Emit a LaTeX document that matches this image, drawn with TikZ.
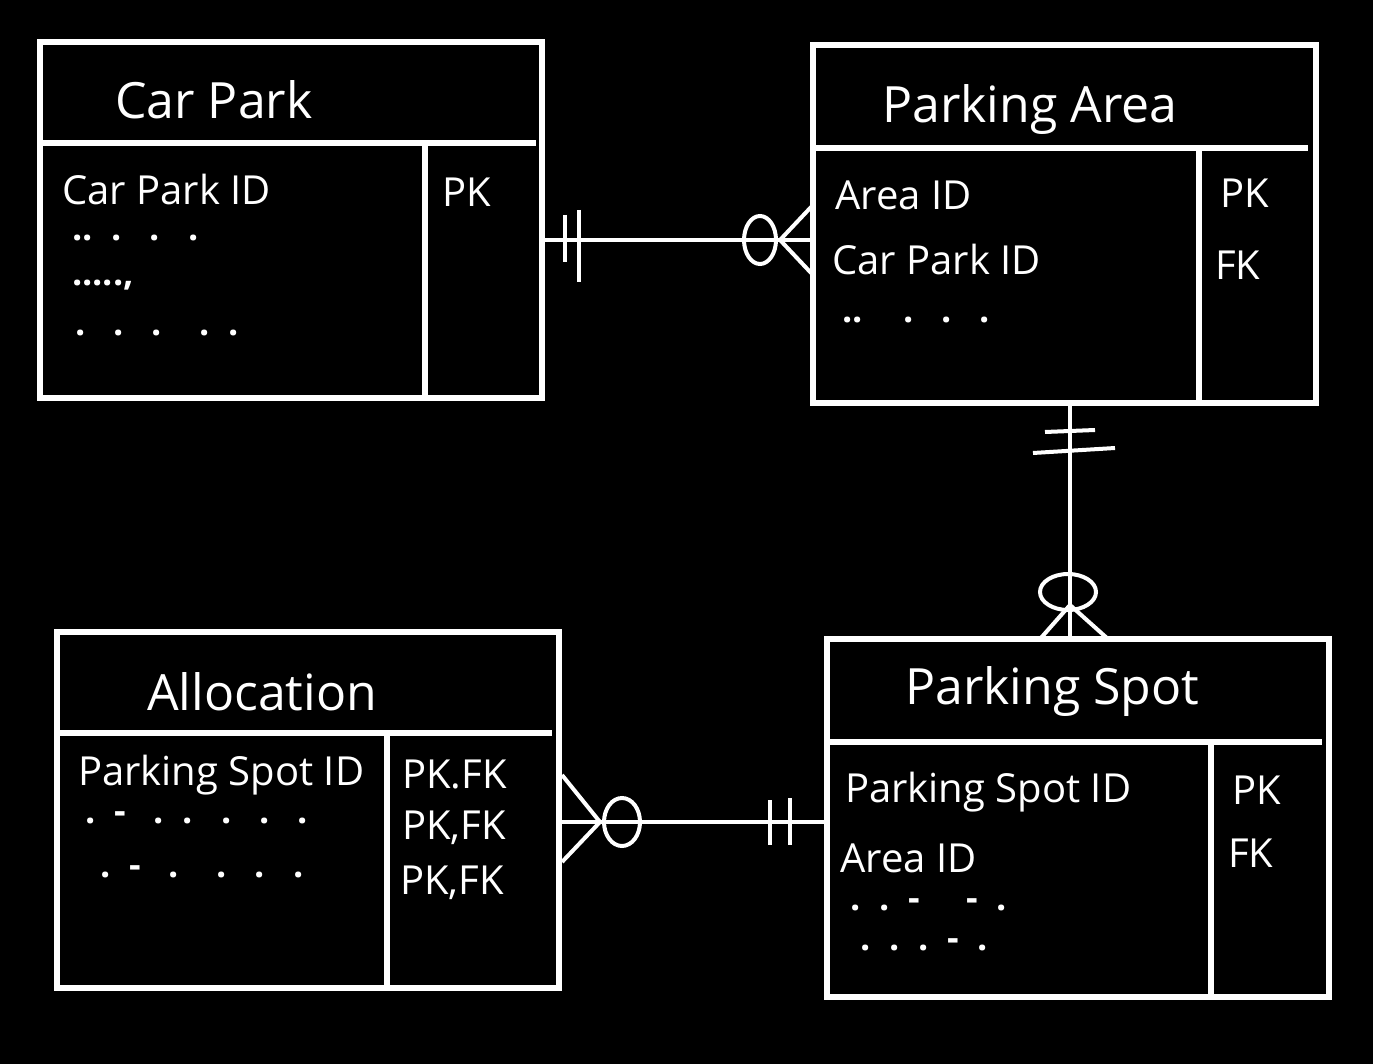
\documentclass[tikz,border=0pt]{standalone}
\usepackage{fontspec}
\setmainfont{Open Sans}
\begin{document}
\begin{tikzpicture}[x=1pt,y=-1pt,
  ln/.style={draw=white,line width=6pt},
  thin/.style={draw=white,line width=4pt},
  ttl/.style={text=white,font=\fontsize{50}{54}\selectfont,anchor=west,inner sep=0pt},
  fld/.style={text=white,font=\fontsize{40}{44}\selectfont,anchor=west,inner sep=0pt},
  dots/.style={text=white,font=\fontsize{36}{40}\selectfont\bfseries,anchor=west,inner sep=0pt}]
\fill[black] (0,0) rectangle (1373,1064);
\useasboundingbox (0,0) rectangle (1373,1064);
% Car Park
\draw[ln] (40,42) rectangle (542,398);
\draw[ln] (40,143) -- (536,143); \draw[ln] (425,143) -- (425,398);
\node[ttl] (cpt) at (115,100) {Car Park};
\node[fld] (cp1) at (62,190) {Car Park ID};
\node[fld] (cp2) at (442,192) {PK};
\node[dots] (cpd1) at (72,238) {..\ \ .\ \ \ .\ \ \ .};
\node[dots] (cpd2) at (72,285) {.....,};
\node[dots] (cpd3) at (75,333) {.\ \ \ .\ \ \ .\ \ \ \ .\ \ .};
% Parking Area
\draw[ln] (813,45) rectangle (1316,403);
\draw[ln] (813,148) -- (1308,148); \draw[ln] (1199,148) -- (1199,403);
\node[ttl] (pat) at (882,110) {Parking Area};
\node[fld] (pa1) at (835,195) {Area ID};
\node[fld] (pa2) at (832,260) {Car Park ID};
\node[dots] (pad) at (842,320) {.. \ \ \ .\ \ \ .\ \ \ .};
\node[fld] (pa3) at (1220,193) {PK};
\node[fld] (pa4) at (1215,265) {FK};
% Allocation
\draw[ln] (57,632) rectangle (559,988);
\draw[ln] (57,733) -- (552,733); \draw[ln] (387,733) -- (387,988);
\node[ttl] (alt) at (147,692) {Allocation};
\node[fld] (al1) at (78,775) {Parking Spot ID};
\node[dots] (ald1) at (85,818) {.\ \ -\ \ \ .\ \ .\ \ \ .\ \ \ .\ \ \ .};
\node[dots] (ald2) at (100,872) {.\ \ -\ \ \ .\ \ \ \ .\ \ \ .\ \ \ .};
\node[fld] (al2) at (402,775) {PK.FK};
\node[fld] (al3) at (402,828) {PK,FK};
\node[fld] (al4) at (400,883) {PK,FK};
% Parking Spot
\draw[ln] (827,639) rectangle (1329,997);
\draw[ln] (827,742) -- (1322,742); \draw[ln] (1211,742) -- (1211,997);
\node[ttl] (pst) at (905,692) {Parking Spot};
\node[fld] (ps1) at (845,792) {Parking Spot ID};
\node[fld] (ps2) at (840,858) {Area ID};
\node[dots] (psd1) at (850,905) {.\ \ .\ \ -\ \ \ \ \ -\ \ .};
\node[dots] (psd2) at (860,945) {.\ \ .\ \ .\ \ -\ \ .};
\node[fld] (ps3) at (1232,790) {PK};
\node[fld] (ps4) at (1228,853) {FK};
% connector 1
\coordinate (a1) at (542,240); \coordinate (b1) at (813,240);
\draw[thin] (a1) -- (b1);
\draw[thin] (565,215) -- (565,262); \draw[thin] (579,210) -- (579,282);
\draw[thin] (760,240) circle[x radius=16,y radius=24];
\draw[thin] (780,240) -- (813,205); \draw[thin] (780,240) -- (813,275);
% connector 2
\coordinate (a2) at (1070,403); \coordinate (b2) at (1070,639);
\draw[thin] (a2) -- (b2);
\draw[thin] (1045,432) -- (1095,430); \draw[thin] (1033,453) -- (1115,448);
\draw[thin] (1068,592) circle[x radius=28,y radius=18];
\draw[thin] (1070,605) -- (1040,639); \draw[thin] (1070,605) -- (1108,639);
% connector 3
\coordinate (a3) at (559,822); \coordinate (b3) at (827,822);
\draw[thin] (a3) -- (b3);
\draw[thin] (600,822) -- (562,775); \draw[thin] (600,822) -- (562,862);
\draw[thin] (622,822) circle[x radius=18,y radius=24];
\draw[thin] (770,800) -- (770,845); \draw[thin] (790,798) -- (790,845);
\end{tikzpicture}
\end{document}
